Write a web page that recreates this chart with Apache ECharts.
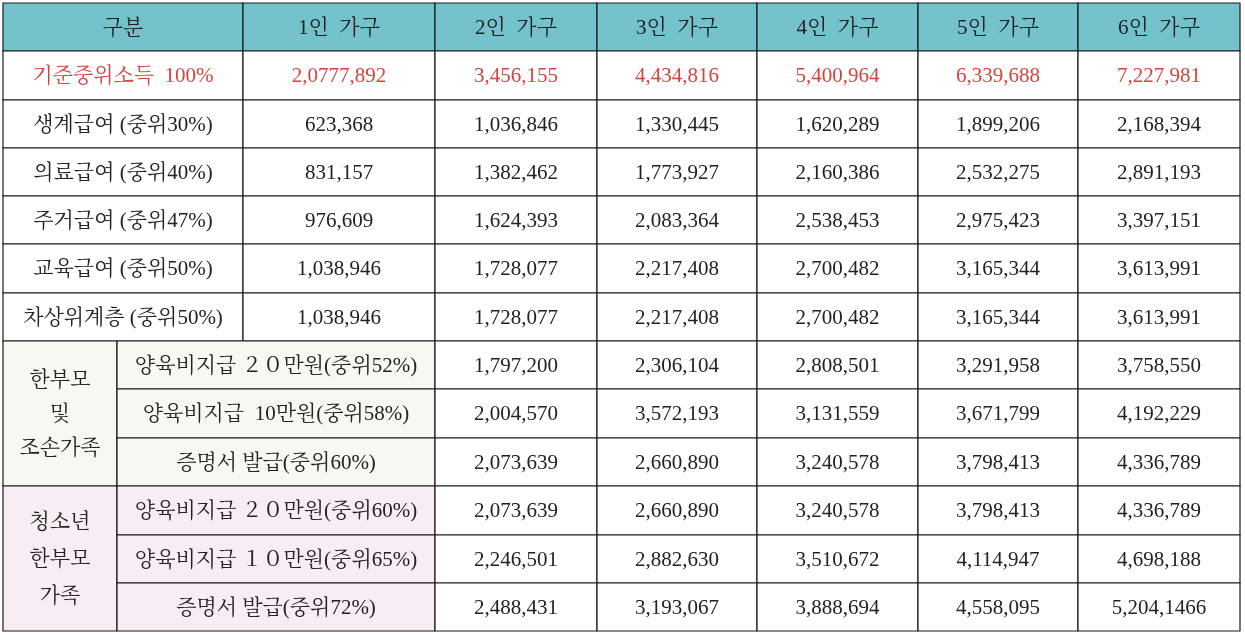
<!DOCTYPE html>
<html><head><meta charset="utf-8">
<script src="https://cdn.jsdelivr.net/npm/echarts@6/dist/echarts.min.js"></script>
<style>html,body{margin:0;padding:0;background:#fff}#c{width:1245px;height:641px}</style>
</head><body><div id="c"></div>
<script>
const headers = ['구분','1인  가구','2인  가구','3인  가구','4인  가구','5인  가구','6인  가구'];
const rowLabels = ['기준중위소득  100%','생계급여 (중위30%)','의료급여 (중위40%)','주거급여 (중위47%)','교육급여 (중위50%)','차상위계층 (중위50%)'];
const groupLabels = ['한부모\n및\n조손가족','청소년\n한부모\n가족'];
const subLabels = ['양육비지급 ２０만원(중위52%)','양육비지급  10만원(중위58%)','증명서 발급(중위60%)','양육비지급 ２０만원(중위60%)','양육비지급 １０만원(중위65%)','증명서 발급(중위72%)'];
const values = [
 ['2,0777,892','3,456,155','4,434,816','5,400,964','6,339,688','7,227,981'],
 ['623,368','1,036,846','1,330,445','1,620,289','1,899,206','2,168,394'],
 ['831,157','1,382,462','1,773,927','2,160,386','2,532,275','2,891,193'],
 ['976,609','1,624,393','2,083,364','2,538,453','2,975,423','3,397,151'],
 ['1,038,946','1,728,077','2,217,408','2,700,482','3,165,344','3,613,991'],
 ['1,038,946','1,728,077','2,217,408','2,700,482','3,165,344','3,613,991']
];
const subValues = [
 ['1,797,200','2,306,104','2,808,501','3,291,958','3,758,550'],
 ['2,004,570','3,572,193','3,131,559','3,671,799','4,192,229'],
 ['2,073,639','2,660,890','3,240,578','3,798,413','4,336,789'],
 ['2,073,639','2,660,890','3,240,578','3,798,413','4,336,789'],
 ['2,246,501','2,882,630','3,510,672','4,114,947','4,698,188'],
 ['2,488,431','3,193,067','3,888,694','4,558,095','5,204,1466']
];

// layout (positions only)
const colEdges = [3,243,435,597,757,918,1078,1240];
const splitX = 117;
const rowEdges = [3,51,100,148,196,244,293,341,389,438,486,535,583,631];

const cells = []; // [x0,x1,y0,y1,text,bg,color,lineHeight]
const HEAD='#74c2cb', RED='#d2453f', BLK='#222', G1='#f8f7f1', G2='#f8edf5';
headers.forEach((h,i)=>cells.push([colEdges[i],colEdges[i+1],rowEdges[0],rowEdges[1],h,HEAD,BLK,30]));
rowLabels.forEach((l,r)=>{
  const c = r===0?RED:BLK;
  cells.push([colEdges[0],colEdges[1],rowEdges[r+1],rowEdges[r+2],l,'#fff',c,30]);
  values[r].forEach((v,j)=>cells.push([colEdges[j+1],colEdges[j+2],rowEdges[r+1],rowEdges[r+2],v,'#fff',c,30]));
});
groupLabels.forEach((g,k)=>{
  const bg = k===0?G1:G2;
  cells.push([colEdges[0],splitX,rowEdges[7+k*3],rowEdges[10+k*3],g,bg,BLK,k===0?34:37]);
  for(let s=0;s<3;s++){
    const r=k*3+s;
    cells.push([splitX,colEdges[2],rowEdges[7+r],rowEdges[8+r],subLabels[r],bg,BLK,30]);
    subValues[r].forEach((v,j)=>cells.push([colEdges[j+2],colEdges[j+3],rowEdges[7+r],rowEdges[8+r],v,'#fff',BLK,30]));
  }
});

const chart = echarts.init(document.getElementById('c'));
chart.setOption({
  animation:false,
  grid:{left:0,right:0,top:0,bottom:0},
  xAxis:{type:'value',min:0,max:1245,show:false},
  yAxis:{type:'value',min:0,max:641,inverse:true,show:false},
  series:[{
    type:'custom',
    data:cells,
    encode:{x:[0,1],y:[2,3]},
    renderItem:(params,api)=>{
      const p0=api.coord([api.value(0),api.value(2)]);
      const p1=api.coord([api.value(1),api.value(3)]);
      const d=cells[params.dataIndex];
      return {type:'group',children:[
        {type:'rect',shape:{x:p0[0],y:p0[1],width:p1[0]-p0[0],height:p1[1]-p0[1]},
         style:{fill:d[5],stroke:'#1a1a1a',lineWidth:1.2}},
        {type:'text',style:{x:(p0[0]+p1[0])/2,y:(p0[1]+p1[1])/2+1,text:d[4],align:'center',verticalAlign:'middle',
          fill:d[6],fontSize:21,lineHeight:d[7],fontFamily:'"Liberation Serif","Noto Serif CJK KR","Noto Sans CJK KR",serif'}}
      ]};
    }
  }]
});
</script></body></html>
